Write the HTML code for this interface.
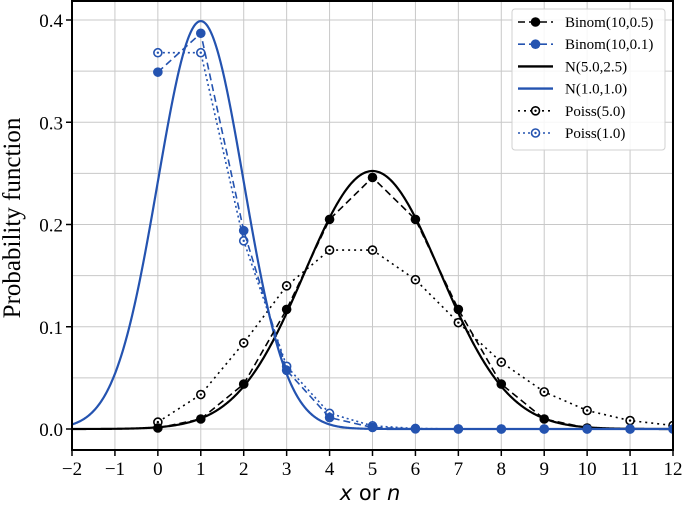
<!DOCTYPE html>
<html><head><meta charset="utf-8"><style>
body{margin:0;background:#fff}
svg{display:block;font-family:"Liberation Serif",serif}
</style></head><body>
<svg id="chart" width="685" height="505">
</svg>
<script>
const ks=[0,1,2,3,4,5,6,7,8,9,10,11,12];
const binom05=[0.000977,0.00977,0.0439,0.117,0.205,0.246,0.205,0.117,0.0439,0.00977,0.000977,0,0];
const binom01=[0.349,0.387,0.194,0.0574,0.0112,0.00149,0.000138,0.0000087,0,0,0,0,0];
const poiss5=[0.00674,0.0337,0.0842,0.140,0.175,0.175,0.146,0.104,0.0653,0.0363,0.0181,0.00824,0.00343];
const poiss1=[0.368,0.368,0.184,0.0613,0.0153,0.00307,0.000511,0.000073,0,0,0,0,0];
const normMeans=[5.0,1.0];
const normVars=[2.5,1.0];
const xTicks=[-2,-1,0,1,2,3,4,5,6,7,8,9,10,11,12];
const yTicks=[0.0,0.1,0.2,0.3,0.4];
const legendLabels=["Binom(10,0.5)","Binom(10,0.1)","N(5.0,2.5)","N(1.0,1.0)","Poiss(5.0)","Poiss(1.0)"];

const NS="http://www.w3.org/2000/svg";
const svg=document.getElementById('chart');
const L=72,R=673,T=1,B=450;
const X=v=>L+(v+2)*(R-L)/14;
const Y=v=>429-v*1022.5;
const BL="#2453b0";
function mk(tag,attrs,parent){const e=document.createElementNS(NS,tag);for(const k in attrs)e.setAttribute(k,attrs[k]);(parent||svg).appendChild(e);return e;}
for(let x=-2;x<=12;x++){const g=mk('line',{x1:X(x),x2:X(x),y1:T,y2:B,stroke:'#c8c8c8','stroke-width':1});

}
for(let i=0;i<=8;i++){const v=i*0.05;const g=mk('line',{x1:L,x2:R,y1:Y(v),y2:Y(v),stroke:'#c8c8c8','stroke-width':1});

}
const defs=mk('defs',{});const cp=mk('clipPath',{id:'cp'},defs);mk('rect',{x:L,y:T,width:R-L,height:B-T},cp);
const plot=mk('g',{'clip-path':'url(#cp)'});


function gauss(m,v,x){return Math.exp(-(x-m)*(x-m)/(2*v))/Math.sqrt(2*Math.PI*v);}
function curve(i,color,name){let d='';for(let x=-2;x<=12.001;x+=0.02){d+=(d?'L':'M')+X(x).toFixed(2)+','+Y(gauss(normMeans[i],normVars[i],x)).toFixed(2);}
const p=mk('path',{d:d,fill:'none',stroke:color,'stroke-width':2.2},plot);

}
function series(vals,color,dash,filled,name,n){let d='';for(let i=0;i<n;i++){d+=(i?'L':'M')+X(ks[i])+','+Y(vals[i]);}
const p=mk('path',{d:d,fill:'none',stroke:color,'stroke-width':1.6,'stroke-dasharray':dash},plot);


for(let i=0;i<n;i++){const c=mk('circle',{cx:X(ks[i]),cy:Y(vals[i]),r:filled?4.8:4,fill:filled?color:'#fff',stroke:color,'stroke-width':filled?0:1.6},plot);


if(!filled){const c2=mk('circle',{cx:X(ks[i]),cy:Y(vals[i]),r:1.2,fill:color},plot);

}}}
series(poiss5,'#000','2,4',false,'poiss-5',13);
series(poiss1,BL,'2,3',false,'poiss-1',13);
curve(0,'#000','normal-5-2.5');
curve(1,BL,'normal-1-1');
series(binom05,'#000','7,4',true,'binom-10-0.5',11);
series(binom01,BL,'7,4',true,'binom-10-0.1',13);
const fr=mk('rect',{x:L,y:T,width:R-L,height:B-T,fill:'none',stroke:'#000','stroke-width':2});


xTicks.forEach(t=>{mk('line',{x1:X(t),x2:X(t),y1:B,y2:B+6,stroke:'#000','stroke-width':1.5});
const tx=mk('text',{x:X(t),y:475,'text-anchor':'middle','font-size':19});tx.textContent=(t<0?'\u2212'+(-t):t);

});
yTicks.forEach(t=>{mk('line',{x1:L-6,x2:L,y1:Y(t),y2:Y(t),stroke:'#000','stroke-width':1.5});
const tx=mk('text',{x:63,y:Y(t)+7,'text-anchor':'end','font-size':19});tx.textContent=t.toFixed(1);

});
const lg=mk('g',{});


mk('rect',{x:512,y:9,width:153,height:141,rx:3,fill:'rgba(255,255,255,0.85)',stroke:'#d0d0d0'},lg);
const styles=[['#000','7,4',1],[BL,'7,4',1],['#000','',0],[BL,'',0],['#000','2,4',2],[BL,'2,3',2]];
legendLabels.forEach((lab,i)=>{const y=22+i*22.2;const s=styles[i];
mk('line',{x1:518,x2:553,y1:y,y2:y,stroke:s[0],'stroke-width':s[2]?1.6:2.4,'stroke-dasharray':s[1]},lg);
if(s[2]==1)mk('circle',{cx:535.5,cy:y,r:4.8,fill:s[0]},lg);
if(s[2]==2){mk('circle',{cx:535.5,cy:y,r:4,fill:'#fff',stroke:s[0],'stroke-width':1.6},lg);mk('circle',{cx:535.5,cy:y,r:1.2,fill:s[0]},lg);}
const tx=mk('text',{x:565,y:y+5,'font-size':15},lg);tx.textContent=lab;

});
const xt=mk('text',{x:370,y:500,'text-anchor':'middle','font-size':21,'font-family':'"DejaVu Sans",sans-serif'});
xt.innerHTML='<tspan font-style="italic">x</tspan> or <tspan font-style="italic">n</tspan>';


const yt=mk('text',{x:0,y:0,'text-anchor':'middle','font-size':25,transform:'translate(20,218) rotate(-90)'});
yt.textContent='Probability function';


</script>
</body></html>
